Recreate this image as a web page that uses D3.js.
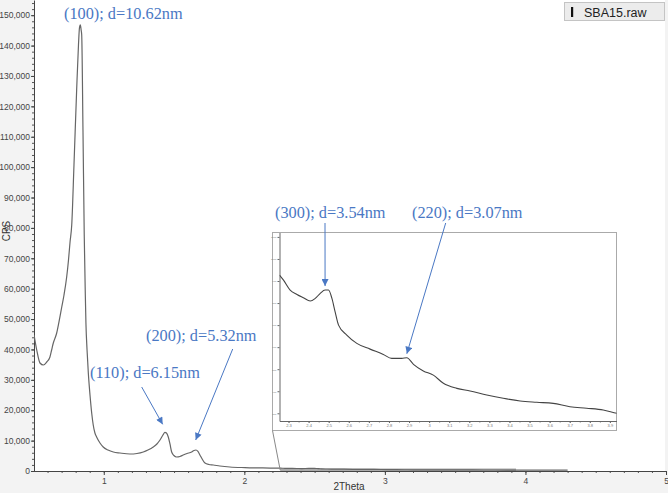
<!DOCTYPE html>
<html><head><meta charset="utf-8">
<script src="https://cdn.jsdelivr.net/npm/d3@7"></script>
<style>body{margin:0;background:#fff}svg{display:block}</style>
</head><body><svg id="c" width="668" height="493"></svg>
<script>
// ---------- DATA ----------
const theta = [0.504,0.523,0.546,0.570,0.594,0.617,0.629,0.641,0.665,0.681,0.701,0.717,0.736,0.749,0.760,0.772,0.788,0.807,0.820,0.827,0.833,0.839,0.843,0.852,0.861,0.868,0.873,0.881,0.890,0.902,0.914,0.925,0.937,0.949,0.973,0.996,1.03,1.068,1.115,1.186,1.236,1.281,1.314,1.352,1.378,1.400,1.421,1.435,1.446,1.459,1.471,1.483,1.499,1.518,1.542,1.565,1.592,1.625,1.642,1.656,1.670,1.684,1.702,1.720,1.748,1.779,1.826,1.897,2.004,2.131,
  2.255,2.275,2.308,2.342,2.374,2.408,2.433,2.458,2.482,2.499,2.516,2.532,2.549,2.590,2.640,2.706,2.772,2.814,2.839,2.864,2.889,2.922,2.971,3.021,3.071,3.138,3.204,3.287,3.369,3.453,3.536,3.618,3.701,3.784,3.867,3.934,
  4.0,4.15,4.3];
const cps = [44760,39820,35540,34880,35870,37520,39820,42120,45410,49030,53970,57920,63840,69440,75360,80960,100700,125400,140200,145800,146800,145100,143500,112200,77670,59560,48700,39820,32250,25010,19090,15140,12500,11190,9210,7900,6900,6250,5920,5590,5760,6250,6900,7900,8890,10200,11850,12740,12500,11190,8890,6250,5100,4610,4770,5270,5760,6250,6750,6910,6420,5270,3780,2630,2140,1970,1650,1320,1120,1000,
  927,904,859,839,824,809,821,844,859,859,821,760,700,655,617,591,567,549,549,549,552,522,492,473,436,413,401,383,368,356,350,345,330,323,315,300,
  290,275,265];
const yTickValues = d3.range(0, 150001, 10000);
const xTickValues = [1, 2, 3, 4, 5];
const insetXTicks = [2.3,2.4,2.5,2.6,2.7,2.8,2.9,3,3.1,3.2,3.3,3.4,3.5,3.6,3.7,3.8,3.9];
const insetYTicks = [300,400,500,600,700,800,900,1000,1100];
const legendLabel = "SBA15.raw";
const peakLabels = ["(100); d=10.62nm", "(110); d=6.15nm", "(200); d=5.32nm", "(300); d=3.54nm", "(220); d=3.07nm"];
const peakTheta = [0.831, 1.419, 1.654, 2.482, 2.889];
const peakCps = [146800, 14050, 8885, 859, 552];

// ---------- CHART ----------
const svg = d3.select('#c');
const W = 668, H = 493;
const blue = '#4a78c4';
const x = d3.scaleLinear().domain([0.5, 5]).range([33.5, 666]);
const y = d3.scaleLinear().domain([0, 155000]).range([471, 0]);

svg.append('rect').attr('width', W).attr('height', H).attr('fill', '#f3f3f3');
svg.append('rect').attr('x', 34).attr('y', 0).attr('width', 631).attr('height', 471).attr('fill', '#fff');

const defs = svg.append('defs');
defs.append('clipPath').attr('id', 'mainclip').append('rect').attr('x', 34).attr('y', 0).attr('width', 632).attr('height', 471);
defs.append('marker').attr('id', 'arr').attr('viewBox', '0 0 10 10').attr('refX', 10).attr('refY', 5)
  .attr('markerWidth', 8).attr('markerHeight', 7).attr('markerUnits', 'userSpaceOnUse').attr('orient', 'auto')
  .append('path').attr('d', 'M0,0 L10,5 L0,10 Z').attr('fill', blue);

const data = theta.map((t, i) => ({t, c: cps[i]}));

// minor ticks
const fontAxis = '"Liberation Sans", Arial, sans-serif';
const yMinor = svg.append('g').attr('transform', 'translate(34,0)')
  .call(d3.axisLeft(y).tickValues(d3.range(0, 155001, 2000)).tickSize(2).tickFormat(''));
yMinor.select('.domain').remove();
yMinor.selectAll('line').attr('stroke', '#555');
const xMinor = svg.append('g').attr('transform', 'translate(0,471)')
  .call(d3.axisBottom(x).tickValues(d3.range(6, 51).map(d => d / 10)).tickSize(2).tickFormat(''));
xMinor.select('.domain').remove();
xMinor.selectAll('line').attr('stroke', '#555');

const yAx = svg.append('g').attr('transform', 'translate(34,0)')
  .call(d3.axisLeft(y).tickValues(yTickValues).tickFormat(d3.format(',')).tickSize(3).tickPadding(1).tickSizeOuter(0));
yAx.select('.domain').attr('stroke', '#444');
yAx.selectAll('line').attr('stroke', '#444');
yAx.selectAll('text').attr('font-family', fontAxis).attr('font-size', 8.5).attr('fill', '#444');

const xAx = svg.append('g').attr('transform', 'translate(0,471)')
  .call(d3.axisBottom(x).tickValues(xTickValues).tickFormat(d3.format('d')).tickSize(4).tickPadding(3).tickSizeOuter(0));
xAx.select('.domain').attr('stroke', '#444');
xAx.selectAll('line').attr('stroke', '#444');
xAx.selectAll('text').attr('font-family', fontAxis).attr('font-size', 8.5).attr('fill', '#444');

svg.append('text').attr('x', 349).attr('y', 490).attr('text-anchor', 'middle')
  .attr('font-family', fontAxis).attr('font-size', 10).attr('fill', '#333').text('2Theta');
svg.append('text').attr('transform', 'translate(10,231) rotate(-90)').attr('text-anchor', 'middle')
  .attr('font-family', fontAxis).attr('font-size', 10).attr('fill', '#333').text('CPS');

// zoom range band on axis
svg.append('rect').attr('x', x(2.255)).attr('y', 468.5).attr('width', x(3.933) - x(2.255)).attr('height', 2.5).attr('fill', '#aaa');

// main curve
const line = d3.line().x(d => x(d.t)).y(d => y(d.c)).curve(d3.curveMonotoneX);
svg.append('path').datum(data).attr('clip-path', 'url(#mainclip)').attr('d', line)
  .attr('fill', 'none').attr('stroke', '#666').attr('stroke-width', 1.2);

// ---------- INSET ----------
const ix = d3.scaleLinear().domain([2.255, 3.933]).range([279.5, 616.5]);
const iy = d3.scaleLinear().domain([265, 1120]).range([421, 232.5]);
const ins = svg.append('g');
ins.append('rect').attr('x', 272.5).attr('y', 232.5).attr('width', 344).attr('height', 198)
  .attr('fill', '#fff').attr('stroke', '#aaa');
// connector
svg.append('line').attr('x1', 272.5).attr('y1', 430.5).attr('x2', x(2.255)).attr('y2', 470)
  .attr('stroke', '#888').attr('stroke-width', 1);
defs.append('clipPath').attr('id', 'insclip').append('rect').attr('x', 279.5).attr('y', 232.5).attr('width', 337).attr('height', 188.5);

const ixMinor = ins.append('g').attr('transform', 'translate(0,421)')
  .call(d3.axisBottom(ix).tickValues(d3.range(46, 79).map(d => d / 20)).tickSize(1.5).tickFormat(''));
ixMinor.select('.domain').remove();
ixMinor.selectAll('line').attr('stroke', '#777');
const ixAx = ins.append('g').attr('transform', 'translate(0,421)')
  .call(d3.axisBottom(ix).tickValues(insetXTicks).tickFormat(d => d3.format('')(d)).tickSize(2).tickPadding(1.5).tickSizeOuter(0));
ixAx.select('.domain').attr('stroke', '#666');
ixAx.selectAll('line').attr('stroke', '#666');
ixAx.selectAll('text').attr('font-family', fontAxis).attr('font-size', 4).attr('fill', '#777');
const iyAx = ins.append('g').attr('transform', 'translate(279.5,0)')
  .call(d3.axisLeft(iy).tickValues(insetYTicks).tickFormat(d => d).tickSize(2).tickPadding(1).tickSizeOuter(0));
iyAx.select('.domain').attr('stroke', '#666');
iyAx.selectAll('line').attr('stroke', '#666');
iyAx.selectAll('text').attr('font-family', fontAxis).attr('font-size', 2.5).attr('fill', '#777');

const iline = d3.line().x(d => ix(d.t)).y(d => iy(d.c)).curve(d3.curveMonotoneX);
ins.append('path').datum(data.filter(d => d.t >= 2.2 && d.t <= 4.0)).attr('clip-path', 'url(#insclip)').attr('d', iline)
  .attr('fill', 'none').attr('stroke', '#444').attr('stroke-width', 1.1);

// ---------- ANNOTATIONS ----------
const fontAnn = '"Liberation Serif", "Times New Roman", serif';
// label layout: [text x, text baseline y, arrow start x, arrow start y]; index 0 has no arrow
const layout = [[64, 19, null, null], [90, 378, 141.7, 387], [146, 341, 232.7, 349], [275, 218, 325, 223], [412, 218, 445.7, 223]];
peakLabels.forEach((lab, i) => {
  const L = layout[i];
  svg.append('text').attr('x', L[0]).attr('y', L[1]).attr('font-family', fontAnn).attr('font-size', 16.3)
    .attr('fill', blue).text(lab);
  if (L[2] !== null) {
    const inset = i >= 3;
    const tx = inset ? ix(peakTheta[i]) : x(peakTheta[i]);
    const ty = (inset ? iy(peakCps[i]) : y(peakCps[i])) - 4;
    svg.append('line').attr('x1', L[2]).attr('y1', L[3]).attr('x2', tx).attr('y2', ty)
      .attr('stroke', blue).attr('stroke-width', 1).attr('marker-end', 'url(#arr)');
  }
});

// ---------- LEGEND ----------
svg.append('rect').attr('x', 564.5).attr('y', 2.5).attr('width', 100).attr('height', 18)
  .attr('fill', '#ececec').attr('stroke', '#c4c4c4');
svg.append('rect').attr('x', 571).attr('y', 7).attr('width', 2.2).attr('height', 10).attr('fill', '#111');
svg.append('text').attr('x', 584).attr('y', 16.5).attr('font-family', fontAxis).attr('font-size', 12.5)
  .attr('fill', '#222').text(legendLabel);
</script></body></html>
